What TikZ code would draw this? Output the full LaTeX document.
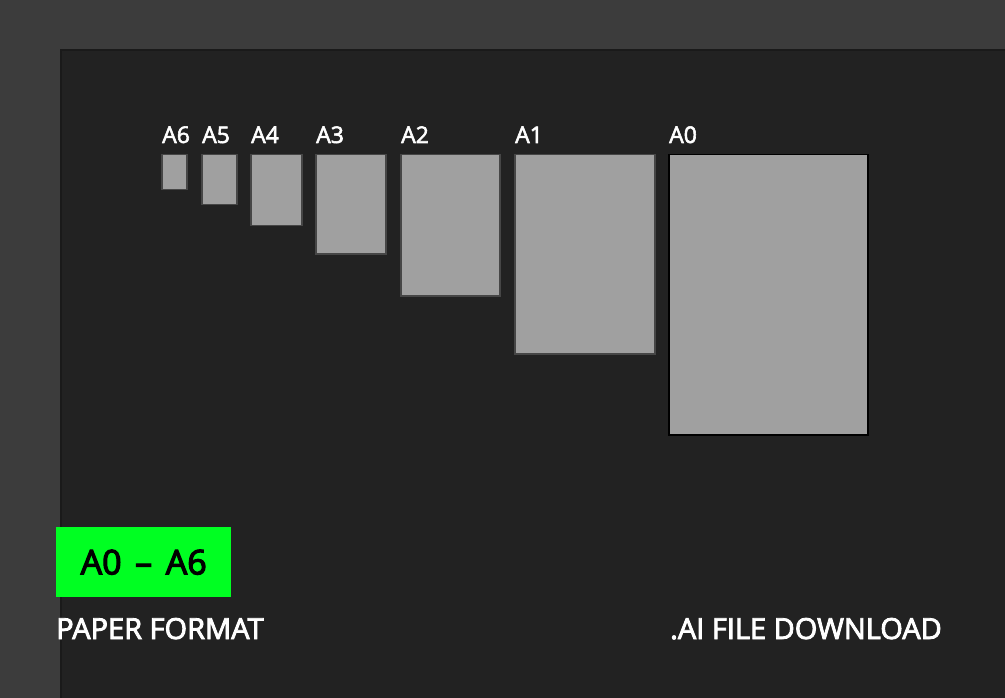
\documentclass[tikz,border=0pt]{standalone}
\usepackage{fontspec}
\setmainfont{Open Sans}
\usetikzlibrary{positioning}

\definecolor{frame}{HTML}{3C3C3C}
\definecolor{panel}{HTML}{222222}
\definecolor{paper}{HTML}{A0A0A0}
\definecolor{neon}{HTML}{00FF22}

\tikzset{
  sheet/.style={draw={rgb,255:red,70;green,70;blue,70}, line width=1.5pt, fill=paper,
    anchor=north west, inner sep=0pt},
  sizename/.style={text=white, font=\fontsize{23}{23}\selectfont\addfontfeatures{FakeBold=2.5}, anchor=base west, inner sep=0pt},
  caption/.style={text=white, font=\fontsize{29}{29}\selectfont\addfontfeatures{FakeBold=3}, anchor=base west, inner sep=0pt}
}

\begin{document}
\begin{tikzpicture}[x=1pt,y=-1pt]
  % backdrop and panel
  \fill[frame] (0,0) rectangle (1005,698);
  \useasboundingbox (0,0) rectangle (1005,698);
  \filldraw[fill=panel, draw={rgb,255:red,26;green,26;blue,26}, line width=1.5pt] (61,50) rectangle (1010,705);

  % sheets, all hung from the same top edge
  \node[sheet, minimum width=25pt,  minimum height=35pt]  (a6) at (161,154) {};
  \node[sheet, minimum width=35pt,  minimum height=50pt]  (a5) at (201,154) {};
  \node[sheet, minimum width=51pt,  minimum height=71pt]  (a4) at (250,154) {};
  \node[sheet, minimum width=70pt,  minimum height=99pt]  (a3) at (315,154) {};
  \node[sheet, minimum width=99pt,  minimum height=141pt] (a2) at (400,154) {};
  \node[sheet, minimum width=140pt, minimum height=199pt] (a1) at (514,154) {};
  \node[sheet, draw=black, minimum width=199pt, minimum height=280pt] (a0) at (668,154) {};

  % size names
  \foreach \s/\t in {a6/A6, a5/A5, a4/A4, a3/A3, a2/A2, a1/A1, a0/A0}
    \node[sizename] (\s-name) at ([xshift=1pt, yshift=11pt]\s.north west) {\t};

  % tag and captions
  \node[fill=neon, minimum width=175pt, minimum height=70pt, anchor=north west, inner sep=0pt,
    font=\fontsize{34}{34}\selectfont\addfontfeatures{FakeBold=3.5}] (range) at (56,527) {A0\hspace{0.4em}–\hspace{0.4em}A6};
  \node[caption] (format) at (56,639) {PAPER FORMAT};
  \node[caption] (download) at (670,639) {.AI FILE DOWNLOAD};
\end{tikzpicture}
\end{document}
